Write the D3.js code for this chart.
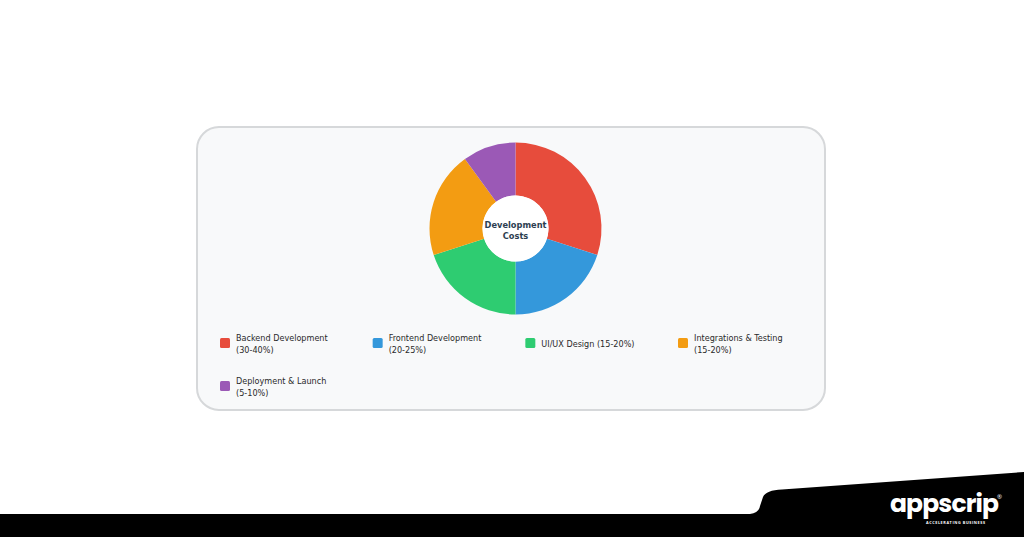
<!DOCTYPE html>
<html><head><meta charset="utf-8">
<script src="https://cdn.jsdelivr.net/npm/d3@7"></script>
<style>
html,body{margin:0;padding:0;background:#fff;}
svg{display:block;}
</style></head>
<body>
<svg id="chart" width="1024" height="537"></svg>
<script>
const categories = ["Backend Development","Frontend Development","UI/UX Design","Integrations & Testing","Deployment & Launch"];
const ranges = ["(30-40%)","(20-25%)","(15-20%)","(15-20%)","(5-10%)"];
const values = [30,20,20,20,10];
const colors = ["#e74c3c","#3498db","#2ecc71","#f39c12","#9b59b6"];
const centerLines = ["Development","Costs"];

const svg = d3.select("#chart");

// card
svg.append("rect").attr("x",197).attr("y",127).attr("width",628).attr("height",283)
  .attr("rx",22).attr("ry",22).attr("fill","#f8f9fa").attr("stroke","#d6d8da").attr("stroke-width",2);

// donut
const cx=515.5, cy=228.5, rOut=86, rIn=33;
const pie = d3.pie().sort(null).value(d=>d)(values);
const arc = d3.arc().innerRadius(rIn).outerRadius(rOut);
const g = svg.append("g").attr("transform",`translate(${cx},${cy})`);
g.selectAll("path").data(pie).join("path").attr("d",arc).attr("fill",(d,i)=>colors[i]);
g.append("circle").attr("r",rIn).attr("fill","#fff");
g.append("text").attr("text-anchor","middle")
  .attr("font-family","'DejaVu Sans Condensed','DejaVu Sans',sans-serif").attr("font-weight","bold")
  .attr("font-size",9.2).attr("fill","#2c3e50")
  .selectAll("tspan").data(centerLines).join("tspan")
  .attr("x",0).attr("y",(d,i)=>-1+i*11.5).text(d=>d);

// legend
const colX = d3.scaleLinear().domain([0,3]).range([220,678]);
const rowY = d3.scaleLinear().domain([0,1]).range([343,386]);
const lg = svg.append("g").attr("font-family","'DejaVu Sans Condensed','DejaVu Sans',sans-serif")
  .attr("font-size",9).attr("fill","#2a2a2a");
categories.forEach((c,i)=>{
  const x = colX(i%4), y = rowY(Math.floor(i/4));
  lg.append("rect").attr("x",x).attr("y",y-5).attr("width",10).attr("height",10).attr("rx",1.5).attr("fill",colors[i]);
  const t = lg.append("text").attr("x",x+16).attr("y",y+3.5).text(c+" "+ranges[i]);
  if (t.node().getComputedTextLength() > 115) {
    t.text(null);
    t.append("tspan").attr("x",x+16).attr("y",y-2).text(c);
    t.append("tspan").attr("x",x+16).attr("y",y+9.5).text(ranges[i]);
  }
});

// footer brand
svg.append("path").attr("d","M0,514 L750,514 Q759,513 760,506 L763,497 Q766,490 782,489.5 L1024,472 L1024,537 L0,537 Z").attr("fill","#000");
svg.append("text").attr("x",890).attr("y",512).attr("font-family","Poppins,'Open Sans',sans-serif").attr("font-weight","bold")
  .attr("font-size",25).attr("fill","#fff").attr("textLength",109).text("appscrip");
svg.append("text").attr("x",926).attr("y",524).attr("font-family","'Open Sans',sans-serif").attr("font-weight","bold")
  .attr("font-size",3.8).attr("fill","#fff").attr("textLength",59).text("ACCELERATING BUSINESS");
svg.append("text").attr("x",997).attr("y",499).attr("font-family","'Open Sans',sans-serif")
  .attr("font-size",6).attr("fill","#fff").text("®");
</script>
</body></html>
